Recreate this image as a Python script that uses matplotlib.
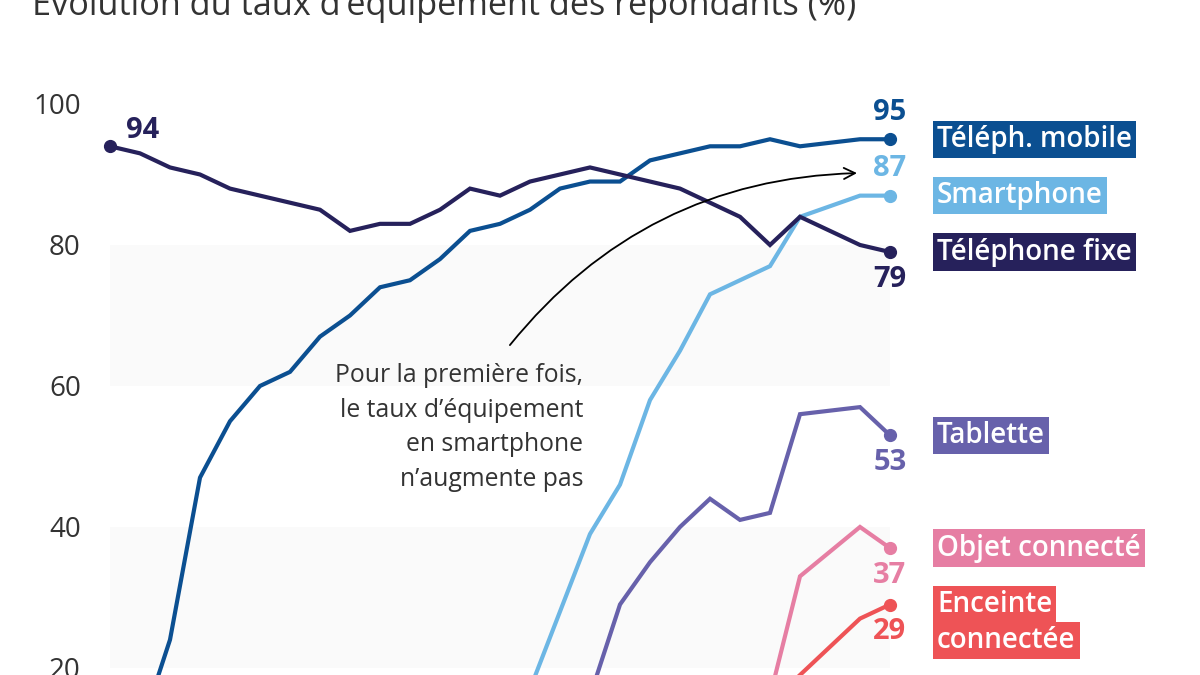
import matplotlib.pyplot as plt

plt.rcParams['font.family'] = ['Open Sans', 'DejaVu Sans']

# years on the x axis (no point for 2021)
yrs_all = [y for y in range(1997, 2024) if y != 2021]

fixe = [94, 93, 91, 90, 88, 87, 86, 85, 82, 83, 83, 85, 88, 87, 89, 90,
        91, 90, 89, 88, 86, 84, 80, 84, 80, 79]
mobile = [11, 24, 47, 55, 60, 62, 67, 70, 74, 75, 78, 82, 83, 85, 88, 89,
          89, 92, 93, 94, 94, 95, 94, 95, 95]
smartphone = [17, 28, 39, 46, 58, 65, 73, 75, 77, 84, 87, 87]
tablette = [16, 29, 35, 40, 44, 41, 42, 56, 57, 53]
objet = [16, 33, 40, 37]
enceinte = [19, 27, 29]

names = ['Téléph. mobile', 'Smartphone', 'Téléphone fixe', 'Tablette',
         'Objet connecté', 'Enceinte\nconnectée']
series = [mobile, smartphone, fixe, tablette, objet, enceinte]
colors = ['#0b4f91', '#6cb6e4', '#26215b', '#6761ab', '#e67ea3', '#ee5356']
# value label above (+1) or below (-1) the last point
val_side = [1, 1, -1, -1, -1, -1]

fig = plt.figure(figsize=(12, 6.75), dpi=100)
ax = fig.add_axes([110 / 1200, 0, 780 / 1200, 571 / 675])
ax.set_xlim(1997, 2023)
ax.set_ylim(19.0, 100)

# alternating light bands
for lo in [20, 60]:
    ax.axhspan(lo, lo + 20, color='#fafafa', zorder=0, lw=0)

for vals, col, side, name in zip(series, colors, val_side, names):
    xs = yrs_all[-len(vals):]
    ax.plot(xs, vals, color=col, lw=3, solid_joinstyle='miter', clip_on=False, zorder=3)
    ax.plot(xs[-1], vals[-1], 'o', color=col, ms=8.5, clip_on=False, zorder=4)
    ax.annotate(str(vals[-1]), (xs[-1], vals[-1]), xytext=(0, 27 * side),
                textcoords='offset pixels', ha='center', va='center',
                fontsize=21, fontweight='bold', color=col, annotation_clip=False)
    lines = name.split('\n')
    for i, ln in enumerate(lines):
        ax.annotate(ln, (xs[-1], vals[-1]), xytext=(47, -36 * i),
                    textcoords='offset pixels', ha='left', va='center',
                    fontsize=20, fontweight='semibold', color='white',
                    annotation_clip=False,
                    bbox=dict(boxstyle='square,pad=0.15', fc=col, ec='none'))

# start point of the landline series
ax.plot(yrs_all[0], fixe[0], 'o', color=colors[2], ms=8.5, clip_on=False, zorder=4)
ax.annotate(str(fixe[0]), (yrs_all[0], fixe[0]), xytext=(33, 16),
            textcoords='offset pixels', ha='center', va='center',
            fontsize=21, fontweight='bold', color=colors[2], annotation_clip=False)

# note on smartphones
ax.text(2012.77, 63.3, 'Pour la première fois,\nle taux d\u2019équipement\nen smartphone\nn\u2019augmente pas',
        ha='right', va='top', multialignment='right', fontsize=17.8, color='#333333',
        linespacing=1.52, zorder=5)
ax.annotate('', xy=(2021.9, 90.2), xytext=(2010.33, 65.8),
            arrowprops=dict(arrowstyle='->', color='black', lw=1.3,
                            connectionstyle='arc3,rad=-0.23',
                            shrinkA=0, shrinkB=0, mutation_scale=20),
            annotation_clip=False, zorder=5)

ax.set_yticks([20, 40, 60, 80, 100])
ax.tick_params(axis='y', length=0, pad=21, labelsize=20, labelcolor='#333333')
ax.set_xticks([])
for s in ax.spines.values():
    s.set_visible(False)

fig.text(32 / 1200, 1 - 15 / 675, 'Évolution du taux d\u2019équipement des répondants (%)',
         fontsize=24.7, color='#333333', va='baseline', ha='left')

fig.savefig('out.png', dpi=100)
